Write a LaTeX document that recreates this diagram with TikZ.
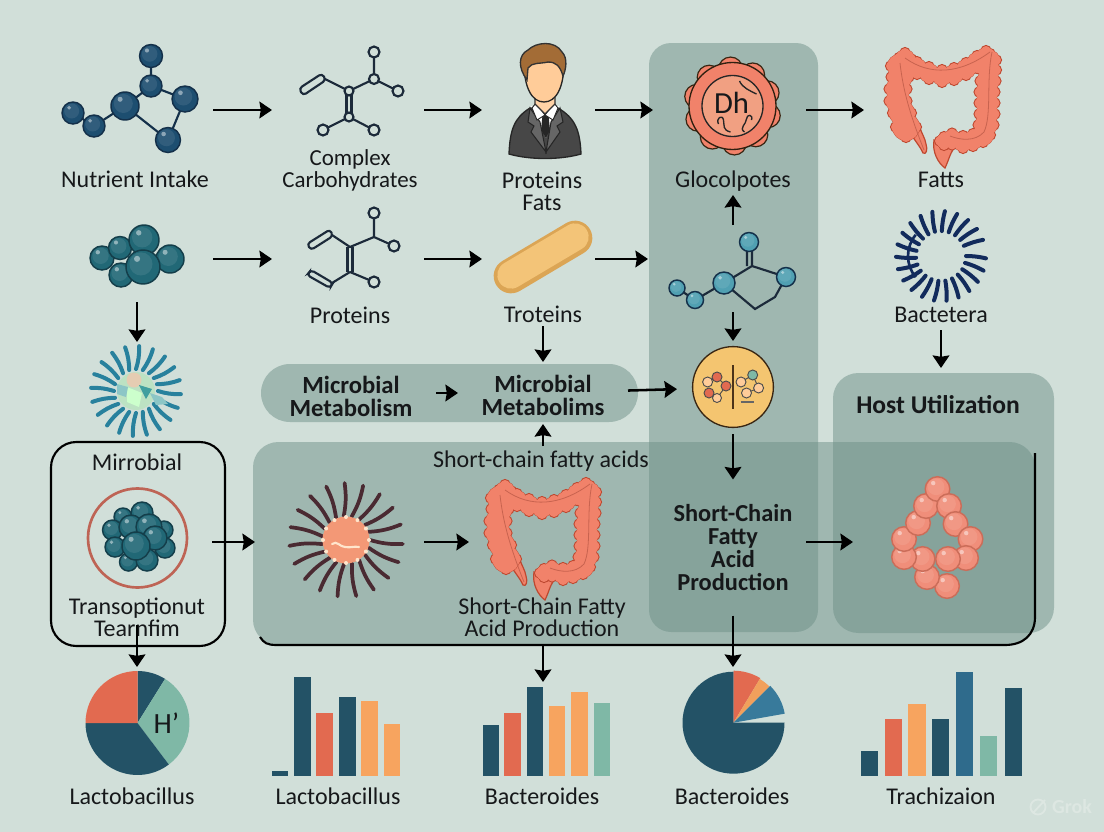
\documentclass[tikz,border=0pt]{standalone}
\usepackage{fontspec}
\setmainfont{Carlito}
\usetikzlibrary{arrows.meta,calc}
\definecolor{bgc}{RGB}{209,223,217}
\definecolor{panelc}{RGB}{109,143,135}
\definecolor{ink}{RGB}{22,24,26}
\definecolor{navy}{RGB}{35,82,102}
\definecolor{redb}{RGB}{226,106,80}
\definecolor{orab}{RGB}{247,164,95}
\definecolor{tealb}{RGB}{127,184,166}
\definecolor{blueb}{RGB}{47,107,140}
\definecolor{colonf}{RGB}{241,130,106}
\definecolor{colone}{RGB}{190,72,48}
\definecolor{molb}{RGB}{29,78,112}
\definecolor{mole}{RGB}{20,48,74}
\definecolor{cluf}{RGB}{33,104,118}
\definecolor{clue}{RGB}{20,62,74}
\definecolor{lineink}{RGB}{28,42,58}
\definecolor{capedge}{RGB}{219,165,85}
\definecolor{capfill}{RGB}{243,196,120}
\definecolor{yelfill}{RGB}{244,197,112}
\definecolor{ringc}{RGB}{190,100,85}
\definecolor{maroon}{RGB}{74,42,50}
\definecolor{tealball}{RGB}{80,160,178}
\definecolor{corelt}{RGB}{243,152,118}
\definecolor{glyin}{RGB}{241,160,130}
\definecolor{pieblue}{RGB}{56,122,155}
\definecolor{coccus}{RGB}{240,142,122}
\tikzset{
 panel/.style={fill=panelc,fill opacity=.49,inner sep=0pt,outer sep=0pt},
 sz/.style 2 args={minimum width=#1*0.75pt,minimum height=#2*0.75pt},
 iconbox/.style={inner sep=0pt,outer sep=0pt},
 lbl/.style={font=\fontsize{18}{16.5}\selectfont,text=ink,align=center,inner sep=0pt,outer sep=0pt},
 lblb/.style={font=\fontsize{18.5}{17.2}\selectfont\bfseries,text=ink,align=center,inner sep=0pt,outer sep=0pt},
 arr/.style={-{Stealth[length=9.4pt,width=12.5pt,inset=1pt]},line width=1.9pt,black},
 stick/.style={line width=1.6pt,draw=lineink},
 openatom/.style={fill=bgc,draw=lineink,line width=1.6pt},
}
\newcommand\Ball[5]{%
 \filldraw[fill=#4,draw=#5,line width=1.1pt] (#1,#2) circle[radius=#3];
 \fill[white,opacity=.09] ({#1-.12*#3},{#2-.18*#3}) circle[radius=.68*#3];
 \fill[white,opacity=.45] ({#1-.35*#3},{#2-.48*#3}) circle[radius=.18*#3];}
\newcommand\Bar[4]{\fill[#4] (#1,776) rectangle (#2,#3);}
\def\colonpts{906/127/14,902/113/13,898/101/12.5,898/89/12.5,900/77/12.5,899/66/12,905/59/10,917/68/10,929/73/10,942/76/10,954/74/10,966/69/10,977/62/10,986/57/10,990/60/10,989/70/11,988/81/11.5,987/92/11.5,987/103/11.5,987/114/11.5,986/125/11.5,983/135/11,973/140/10,963/142/10,952/139/9.5,944/141/8}
\newcommand\ColonIcon{%
 \filldraw[fill=colonf,draw=colone,line width=.9pt] (910,132) .. controls (914,140) and (920,146) .. (923,153) .. controls (926,155) and (928,150) .. (926,144) .. controls (925,138) and (922,134) .. (920,128) -- cycle;
 \filldraw[fill=colonf,draw=colone,line width=.9pt] (934,140) .. controls (932,152) and (938,163) .. (945,168) .. controls (949,160) and (950,152) .. (956,146) -- cycle;
 \foreach \px/\py/\pr in \colonpts {\fill[colone] (\px,\py) circle[radius=\pr];
   \fill[colone] ({\px-\pr+3.5},\py) circle[radius=5.6] ({\px+\pr-3.5},\py) circle[radius=5.6] (\px,{\py-\pr+3.5}) circle[radius=5.6] (\px,{\py+\pr-3.5}) circle[radius=5.6];}
 \foreach \px/\py/\pr in \colonpts {\fill[colonf] (\px,\py) circle[radius=\pr-.4];
   \fill[colonf] ({\px-\pr+3.5},\py) circle[radius=4.5] ({\px+\pr-3.5},\py) circle[radius=4.5] (\px,{\py-\pr+3.5}) circle[radius=4.5] (\px,{\py+\pr-3.5}) circle[radius=4.5];}
 \draw[colone!85,line width=.6pt] (900,63) .. controls (903,90) and (910,115) .. (924,150);
 \draw[colone!85,line width=.6pt] (905,58) .. controls (930,76) and (960,74) .. (990,52);
 \draw[colone!85,line width=.6pt] (992,52) .. controls (986,80) and (992,115) .. (984,132) .. controls (975,142) and (960,140) .. (950,136);
}
\begin{document}
\begin{tikzpicture}[x=0.75pt,y=-0.75pt]
\useasboundingbox (0,0) rectangle (1104,832);
\fill[bgc] (0,0) rectangle (1104,832);

%% panels
\node[panel,sz={169}{589},rounded corners=16.5pt] (tall) at (733.5,337.5) {};
\node[panel,sz={377}{58},rounded corners=21.7pt] (pill) at (449.5,393) {};
\node[panel,sz={221}{260},rounded corners=19pt,outer sep=3.75pt] (host) at (943.5,503) {};
\node[panel,sz={782}{203},rounded corners=19pt] (big) at (644,543.5) {};
\draw[line width=1.6pt,black] ($(big.south west)+(7,-8)$) .. controls ($(big.south west)+(11,-2)$) and ($(big.south west)+(14,0)$) .. ($(big.south west)+(24,0)$) -- ($(big.south east)+(-30,0)$) .. controls ($(big.south east)+(-12,0)$) and ($(big.south east)+(0,-10)$) .. ($(big.south east)+(0,-28)$) -- ($(big.north east)+(0,11)$);
\node[iconbox,draw=black,line width=1.6pt,rounded corners=19pt,sz={174}{204}] (micbox) at (138,544) {};

%% invisible icon frames used by the connectors
\node[iconbox,sz={150}{100}] (nutrient) at (138,110) {};
\node[iconbox,sz={152}{100}] (complex) at (348,110) {};
\node[iconbox,sz={113}{100}] (person) at (538.5,110) {};
\node[iconbox,sz={153}{100}] (glyco) at (729.5,110) {};
\node[iconbox,sz={140}{100}] (colonA) at (934,110) {};
\node[iconbox,sz={152}{86}] (cluster) at (137,259) {};
\node[iconbox,sz={152}{80}] (protmol) at (348,259) {};
\node[iconbox,sz={113}{80}] (capsule) at (538.5,259) {};
\node[iconbox,sz={170}{87}] (tealmol) at (733,268.5) {};
\node[iconbox,sz={80}{78}] (spikeA) at (137,381) {};
\node[iconbox,sz={112}{93}] (yellow) at (733,387.5) {};
\node[iconbox,sz={150}{166}] (ringcl) at (137,542) {};
\node[iconbox,sz={169}{90}] (spikeB) at (339.5,542) {};
\node[iconbox,sz={130}{90}] (colonB) at (534,542) {};
\node[iconbox,sz={146}{90}] (chain) at (926,542) {};
\node[iconbox,circle,minimum size=84pt] (pieA) at (137,723) {};
\node[iconbox,sz={128}{94}] (chartB) at (546,729) {};
\node[iconbox,circle,minimum size=84pt] (pieB) at (733,723) {};
\node[iconbox,sz={170}{60}] (mmA) at (351,393) {};
\node[iconbox,sz={170}{62}] (mmB) at (543,393) {};

%% labels
\node[lbl] (tNut) at (135,179) {Nutrient Intake};
\node[lbl,font=\fontsize{17.2}{16.5}\selectfont] (tCom) at (350,170) {Complex\\Carbohydrates};
\node[lbl] (tPF) at (542,191) {Proteins\\Fats};
\node[lbl,sz={130}{28}] (tGly) at (733,181) {Glocolpotes};
\node[lbl] (tFat) at (941,180) {Fatts};
\node[lbl] (tPro) at (350,315) {Proteins};
\node[lbl,sz={100}{24}] (tTro) at (543,314) {Troteins};
\node[lbl,sz={100}{30}] (tBac) at (941,315) {Bactetera};
\node[lblb] (tMM) at (351,396) {Microbial\\Metabolism};
\node[lblb] (tMM2) at (543,395) {Microbial\\Metabolims};
\node[lblb,font=\fontsize{19.2}{19}\selectfont\bfseries] (tHost) at (938,405) {Host Utilization};
\node[lbl] (tMir) at (137,462) {Mirrobial};
\node[lbl] (tTra) at (137,617) {Transoptionut\\Tearnfim};
\node[lbl,sz={220}{30}] (tSCa) at (541,461) {Short-chain fatty acids};
\node[lbl] (tSC2) at (542,617.5) {Short-Chain Fatty\\Acid Production};
\node[lblb,sz={146}{136},font=\fontsize{18.3}{17.2}\selectfont\bfseries] (tSCF) at (733,547.5) {Short-Chain\\Fatty\\Acid\\Production};
\node[lbl] (tL1) at (132,796) {Lactobacillus};
\node[lbl] (tL2) at (338,796) {Lactobacillus};
\node[lbl] (tB1) at (542,796) {Bacteroides};
\node[lbl] (tB2) at (732,796) {Bacteroides};
\node[lbl] (tTr) at (941,796) {Trachizaion};

%% nutrient molecule
\draw[mole,line width=1.6pt] (151,56)--(151,86)--(125,106)--(94,126)--(73,113) (151,86)--(185,99)--(168,140)--(125,106);
\Ball{151}{56}{11.5}{molb}{mole}\Ball{151}{86}{11}{molb}{mole}\Ball{125}{106}{14}{molb}{mole}
\Ball{185}{99}{13}{molb}{mole}\Ball{168}{140}{12.5}{molb}{mole}\Ball{94}{126}{11}{molb}{mole}\Ball{73}{113}{11}{molb}{mole}

%% complex carbohydrate structure
\draw[stick] (374,52)--(374,79)--(398,91) (374,79)--(349,91)--(323,78) (349,117)--(323,130) (349,117)--(374,130);
\draw[stick] (346.5,91)--(346.5,117) (351.5,91)--(351.5,117);
\draw[fill=bgc,draw=lineink,line width=1.6pt,rounded corners=2.6pt] (299,88.5)--(322,73.5)--(326,80)--(303,95.5)--cycle;
\foreach \ax/\ay/\ar in {374/52/5.5,374/79/5,398/91/5.5,349/91/4.5,349/117/4.5,323/130/5.5,374/130/5.5}{\filldraw[openatom] (\ax,\ay) circle[radius=\ar];}

%% person
\begin{scope}
\filldraw[fill=black!72,draw=black!85,line width=1pt] (509,154) .. controls (510,130) and (514,118) .. (530,108) -- (558,108) .. controls (575,118) and (580,130) .. (581,154) .. controls (560,160) and (530,160) .. (509,154) -- cycle;
\fill[white] (531,106)--(559,106)--(546,138)--cycle;
\fill[black!85] (543,110)--(548,110)--(550,130)--(546,138)--(541,130)--cycle;
\filldraw[fill=black!60,draw=black!85,line width=.8pt] (530,108)--(528,122)--(534,126)--(531,132)--(546,152)--(540,122)--cycle;
\filldraw[fill=black!60,draw=black!85,line width=.8pt] (560,108)--(563,122)--(557,126)--(560,132)--(546,152)--(551,122)--cycle;
\filldraw[fill=white,draw=black!85,line width=.7pt] (536,103)--(545,115)--(537,120)--(532,108)--cycle;
\filldraw[fill=white,draw=black!85,line width=.7pt] (554,103)--(545,115)--(553,120)--(558,108)--cycle;
\filldraw[fill=orange!35!white,draw=black!80,line width=.9pt] (535,92)--(535,104)--(545,114)--(555,104)--(555,92)--cycle;
\filldraw[fill=orange!40!white,draw=black!85,line width=1pt] (524,62) .. controls (524,88) and (532,102) .. (544,102) .. controls (556,102) and (564,88) .. (564,62) -- cycle;
\filldraw[fill=brown!85!black,draw=black!80,line width=1pt] (527,80) .. controls (518,68) and (518,55) .. (528,50) .. controls (536,42) and (555,40) .. (562,52) .. controls (568,58) and (566,70) .. (563,76) .. controls (560,66) and (556,62) .. (548,62) .. controls (540,64) and (532,62) .. (528,68) -- cycle;
\end{scope}

%% glyco disc
\begin{scope}[shift={(732.5,106)}]
\foreach \a in {0,36,...,324}{\filldraw[fill=colonf,draw=black!70!brown,line width=.9pt] (\a+15:37) circle[radius=12];}
\filldraw[fill=colonf,draw=black!75!brown,line width=1pt] (0,0) circle[radius=43.5];
\filldraw[fill=glyin,draw=black!85,line width=1pt] (0,0) circle[radius=30.5];
\node[font=\fontsize{23}{23}\selectfont,text=ink] (glytxt) at (-1,-3) {Dh};
\draw[black!85,line width=1pt] (7,-25) .. controls (10,-18) and (18,-15) .. (24,-12);
\draw[black!85,line width=1pt] (-14,18) .. controls (-17,12) and (-10,8) .. (-9,14) .. controls (-8,20) and (-10,24) .. (-2,26);
\draw[black!85,line width=1pt] (12,26) .. controls (6,22) and (14,18) .. (14,13) .. controls (14,8) and (21,8) .. (19,14);
\end{scope}
\begin{scope}\ColonIcon\end{scope}

%% cluster
\Ball{102}{258}{12}{cluf}{clue}\Ball{170}{259}{14}{cluf}{clue}\Ball{121}{275}{12}{cluf}{clue}\Ball{120}{248}{11.5}{cluf}{clue}\Ball{144}{240}{15}{cluf}{clue}\Ball{143}{267}{17}{cluf}{clue}

%% protein structure
\draw[stick] (374,213)--(374,237)--(394,246) (374,237)--(350,247)--(332,235) (350,272)--(332,283) (350,272)--(374,282);
\draw[stick] (347.5,247)--(347.5,272) (352.5,247)--(352.5,272);
\draw[fill=bgc,draw=lineink,line width=1.6pt,rounded corners=2.5pt] (307,244)--(330,229.5)--(333,236)--(311,250)--cycle;
\draw[fill=bgc,draw=lineink,line width=1.6pt,rounded corners=2.5pt] (311,270)--(333,283)--(330,288)--(307,275)--cycle;
\foreach \ax/\ay/\ar in {374/213/5.5,394/246/5.5,374/282/5.5}{\filldraw[openatom] (\ax,\ay) circle[radius=\ar];}

%% capsule
\draw[line cap=round,line width=26pt,capedge] (511,276)--(575,238);
\draw[line cap=round,line width=20.5pt,capfill] (511,275)--(575,237);

%% teal molecule
\draw[lineink,line width=1.6pt] (747,250)--(747,266) (752,250)--(752,266) (724,283)--(752,266)--(786,277)--(775,297)--(755,309)--(724,283) (724,283)--(695,300)--(677,288);
\foreach \ax/\ay/\ar in {749/242/9.5,724/283/11,786/277/9.5,677/288/8,695/300/8.5}{\Ball{\ax}{\ay}{\ar}{tealball}{mole}}

%% spike A
\begin{scope}[shift={(136,391)}]
\foreach \a in {0,18,...,342}{\draw[blueb!85!cyan,line width=3pt,line cap=round] (\a:22) to[bend right=9] (\a+4:45);}
\fill[green!10!bgc] (0,0) circle[radius=19];
\fill[brown!40!white] (-2,-11) circle[radius=7.5];
\fill[teal!75!white] (3,-6)--(16,-2)--(10,8)--cycle;
\fill[green!20!white] (-9,-4)--(6,2)--(3,16)--(-9,11)--cycle;
\fill[teal!45!white] (-19,-7)--(-8,-4)--(-10,6)--(-19,3)--cycle;
\fill[teal!45!white] (14,2)--(26,6)--(32,13)--(20,14)--cycle;
\end{scope}

%% yellow disc
\filldraw[fill=yelfill,draw=black!70!brown,line width=1pt] (733,387) circle[radius=40.4];
\draw[black!60!brown,line width=.9pt] (733,365)--(733,409);
\draw[black!70,line width=.7pt] (717,377)--(726,386)--(717,398) (707.6,382)--(717,377) (709,393)--(717,398) (752.7,375)--(741,382) (752.7,375)--(758.6,388)--(746.5,393);
\foreach \ax/\ay/\ar/\cc in {717/377/5/redb,707.6/382/5/orange!40!white,726/386/5/redb,709/393/5/redb,717/398/4.5/orange!40!white,752.7/375/5/tealb,741/382/5/orange!40!white,758.6/388/5/orange!40!white,746.5/393/5/orange!40!white}{\filldraw[fill=\cc,draw=black!70,line width=.7pt] (\ax,\ay) circle[radius=\ar];}
\draw[black!60,line width=.8pt] (740.5,402)--(753.7,402);

%% bacteria ring
\begin{scope}[shift={(941,256)}]
\foreach \a in {0,16,...,350}{\draw[mole!90!blue,line width=3pt,line cap=round] (\a:25) to[bend left=6] (\a+3:45);}
\draw[mole!90!blue,line width=2pt] (140:33) arc[start angle=140,end angle=220,radius=33];
\end{scope}

%% ring with cluster
\draw[ringc,line width=2pt] (137.5,538) circle[radius=49.5];
\foreach \ax/\ay/\ar in {123/517/9,142/513/11,112.5/530/10,164/530/9,131/527/12,149/527/13,115/547/10,165/548/10,155/538/12,128.5/562/9,147/560/11,136/546/14}{\Ball{\ax}{\ay}{\ar}{cluf}{clue}}

%% spike B
\begin{scope}[shift={(346,540)}]
\foreach \a in {0,18.9,...,344}{\draw[maroon,line width=2.8pt,line cap=round] (\a:24) to[bend right=9] (\a+4:57);}
\fill[corelt] (0,0) circle[radius=23.5];
\foreach \a in {0,30,...,330}{\fill[orange!20!white] (\a:23) circle[radius=2];}
\draw[orange!20!white,line width=1.6pt,line cap=round] (-14,4) .. controls (-9,0) and (-6,7) .. (-1,7) .. controls (5,8) and (8,6) .. (13,7);
\end{scope}

%% second colon
\begin{scope}[shift={(-400,432)}]\ColonIcon\end{scope}

%% coccus chain
\foreach \ax/\ay in {947/586,927/577,922.6/559,904/557,904/539,918/523,926/506,937.5/489,949/506,955.5/524,970.5/539,966/558,948/559}{\Ball{\ax}{\ay}{12.3}{coccus}{colone!80}}

%% pies
\begin{scope}[shift={(137.5,723)},y=0.75pt]
\fill[navy] (0,0)--(90:52) arc[start angle=90,end angle=58,radius=52]--cycle;
\fill[tealb] (0,0)--(58:52) arc[start angle=58,end angle=-53,radius=52]--cycle;
\fill[navy] (0,0)--(-53:52) arc[start angle=-53,end angle=-180,radius=52]--cycle;
\fill[redb] (0,0)--(180:52) arc[start angle=180,end angle=90,radius=52]--cycle;
\node[font=\fontsize{22}{22}\selectfont,text=ink,inner sep=0pt] (hprime) at (29,0) {H'};
\end{scope}
\begin{scope}[shift={(733.5,722.7)},y=0.75pt]
\fill[navy] (0,0)--(90:51) arc[start angle=90,end angle=360,radius=51]--cycle;
\fill[redb] (0,0)--(90:52) arc[start angle=90,end angle=59,radius=52]--cycle;
\fill[orab!90!brown] (0,0)--(59:51) arc[start angle=59,end angle=45,radius=51]--cycle;
\fill[pieblue] (0,0)--(45:52) arc[start angle=45,end angle=10,radius=52]--cycle;
\end{scope}

%% bar charts
\Bar{272}{288}{771}{navy}\Bar{294}{311}{677}{navy}\Bar{316}{333}{713}{redb}\Bar{339}{356}{697}{navy}\Bar{361}{377.5}{701}{orab}\Bar{383.5}{400}{724}{orab}
\Bar{482.5}{498.5}{725}{navy}\Bar{504}{521}{713}{redb}\Bar{526.5}{543}{687}{navy}\Bar{549}{565}{706}{orab}\Bar{571}{588}{692}{orab}\Bar{594}{610}{703}{tealb}
\Bar{861}{878}{751}{navy}\Bar{885}{901.5}{719}{redb}\Bar{908}{925.5}{704}{orab}\Bar{932}{949}{719}{navy}\Bar{956}{973}{672}{blueb}\Bar{980}{997}{736}{tealb}\Bar{1004.5}{1022}{688}{navy}

%% watermark
\node[font=\fontsize{15}{15}\selectfont\bfseries,text=white!25!bgc,inner sep=0pt] (grok) at (1072,807) {Grok};
\draw[white!25!bgc,line width=1.4pt] (1038,807) circle[radius=7.5] (1033,813)--(1045,800);

%% connectors
\draw[arr] (nutrient)--(complex);
\draw[arr] (complex)--(person);
\draw[arr] (person)--(glyco);
\draw[arr] (glyco)--(colonA);
\draw[arr] (cluster)--(protmol);
\draw[arr] (protmol)--(capsule);
\draw[arr] (capsule)--(tealmol.west |- capsule);
\draw[arr] (cluster.south)--(spikeA.north);
\draw[arr] (tTro)--(mmB);
\draw[arr] (tSCa.north -| mmB)--(mmB.south);
\draw[arr] (mmA)--(mmB);
\draw[arr] (mmB)--(yellow);
\draw[arr] (tealmol)--(tGly);
\draw[arr] (tealmol)--(yellow);
\draw[arr] (yellow)--(tSCF);
\draw[arr] (tBac.south)--(tBac.south |- host.north);
\draw[arr] (ringcl)--(spikeB);
\draw[arr] (spikeB)--(colonB);
\draw[arr] (tSCF.east |- chain)--(chain);
\draw[arr] (ringcl)--(pieA);
\draw[arr] (big.south -| mmB)--(chartB.north -| mmB);
\draw[arr] (tSCF)--(pieB);
\end{tikzpicture}
\end{document}
